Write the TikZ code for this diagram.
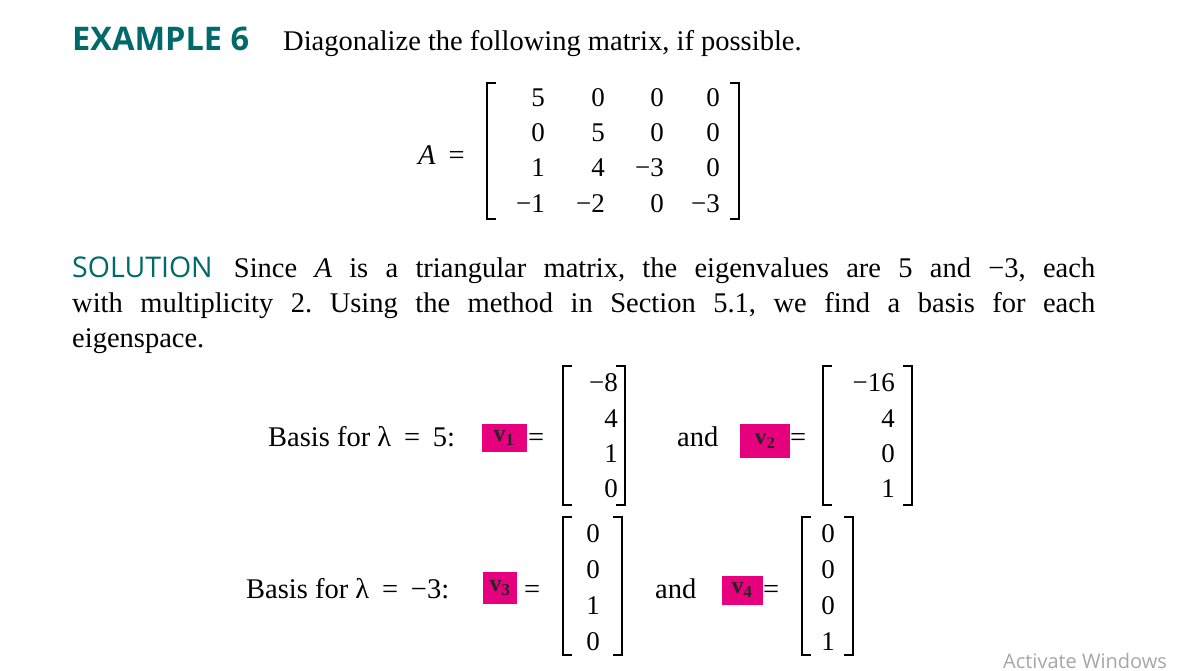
\documentclass[tikz,border=0pt]{standalone}
\usepackage{fontspec}
\setmainfont{Liberation Serif}
\newfontfamily\hdfont{Open Sans}
\newfontfamily\wfont{Open Sans}
\frenchspacing
\definecolor{teal6}{RGB}{0,105,105}
\definecolor{hil}{RGB}{230,0,126}
\newcommand\mybrk[5]{% name, xl, xr, ytop, ybot
  \draw[brk] (#2+9,#4) -- (#2,#4) -- (#2,#5) -- (#2+9,#5);
  \draw[brk] (#3-9,#4) -- (#3,#4) -- (#3,#5) -- (#3-9,#5);}
\newcommand\eqsp{\hspace{0.45em}=\hspace{0.45em}}
\begin{document}
\begin{tikzpicture}[x=1pt,y=-1pt,
  txt/.style={anchor=base west,inner sep=0pt,font=\fontsize{28.5}{32}\selectfont},
  ent/.style={anchor=base east,inner sep=0pt,font=\fontsize{27}{30}\selectfont},
  brk/.style={line width=1.2pt},
  hl/.style={fill=hil,inner sep=0pt,anchor=center,text=black!85,font=\fontsize{24}{26}\selectfont\bfseries}]
\useasboundingbox (0,0) rectangle (1183,671);
\node[txt,font=\hdfont\bfseries\fontsize{32.5}{36}\selectfont,text=teal6] (ex) at (72,51) {EXAMPLE 6};
\node[txt] (t1) at (283,51) {Diagonalize the following matrix, if possible.};
\node[txt] (A) at (418,165) {\textit{A}\eqsp};
\mybrk{a}{487}{739}{83}{219}
\node[ent] at (545,107) {5}; \node[ent] at (605,107) {0}; \node[ent] at (664,107) {0}; \node[ent] at (720,107) {0};
\node[ent] at (545,142) {0}; \node[ent] at (605,142) {5}; \node[ent] at (664,142) {0}; \node[ent] at (720,142) {0};
\node[ent] at (545,177) {1}; \node[ent] at (605,177) {4}; \node[ent] at (664,177) {−3}; \node[ent] at (720,177) {0};
\node[ent] at (545,213) {−1}; \node[ent] at (605,213) {−2}; \node[ent] at (664,213) {0}; \node[ent] at (720,213) {−3};
\node[txt] (s1) at (72,277) {\makebox[1023pt][s]{{\hdfont\color{teal6}SOLUTION}\hspace{4pt} Since \textit{A} is a triangular matrix, the eigenvalues are 5 and −3, each}};
\node[txt] (s2) at (72,312) {\makebox[1023pt][s]{with multiplicity 2. Using the method in Section 5.1, we find a basis for each}};
\node[txt] (s3) at (72,347) {eigenspace.};
% first basis
\node[txt] (b1) at (268,446) {Basis for λ\eqsp 5:};
\node[hl,minimum width=45pt,minimum height=28pt] (v1) at (504,438) {v\textsubscript{1}};
\node[txt] (e1) at (528,446) {=};
\mybrk{v1m}{563}{625}{366}{505}
\node[ent] at (618,391) {−8}; \node[ent] at (618,427) {4}; \node[ent] at (618,462) {1}; \node[ent] at (618,497) {0};
\node[txt] (and1) at (677,446) {and};
\node[hl,minimum width=50pt,minimum height=34pt] (v2) at (765,441) {v\textsubscript{2}};
\node[txt] (e2) at (790,446) {=};
\mybrk{v2m}{823}{912}{366}{505}
\node[ent] at (895,391) {−16}; \node[ent] at (895,427) {4}; \node[ent] at (895,462) {0}; \node[ent] at (895,497) {1};
% second basis
\node[txt] (b2) at (246,598) {Basis for λ\eqsp −3:};
\node[hl,minimum width=34pt,minimum height=32pt] (v3) at (500,588) {v\textsubscript{3}};
\node[txt] (e3) at (524,598) {=};
\mybrk{v3m}{563}{622}{517}{655}
\node[ent] at (600,542) {0}; \node[ent] at (600,578) {0}; \node[ent] at (600,614) {1}; \node[ent] at (600,650) {0};
\node[txt] (and2) at (655,598) {and};
\node[hl,minimum width=41pt,minimum height=29pt] (v4) at (742,590) {v\textsubscript{4}};
\node[txt] (e4) at (763,598) {=};
\mybrk{v4m}{802}{853}{517}{655}
\node[ent] at (835,542) {0}; \node[ent] at (835,578) {0}; \node[ent] at (835,614) {0}; \node[ent] at (835,650) {1};
\begin{scope}
\clip (0,0) rectangle (1183,671);
\node[anchor=base west,inner sep=0pt,text=black!35,font=\wfont\fontsize{20}{24}\selectfont] (act) at (1003,668) {Activate Windows};
\end{scope}
\end{tikzpicture}
\end{document}
